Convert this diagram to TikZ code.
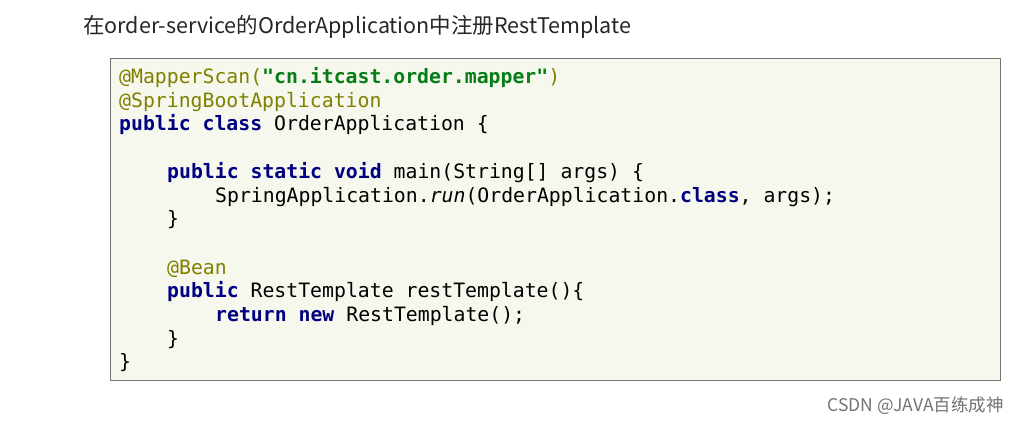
\documentclass[tikz,border=0pt]{standalone}
\usepackage{fontspec}
\setmonofont{DejaVu Sans Mono}
\newfontfamily\cjk{Noto Sans CJK SC}
\definecolor{anno}{HTML}{808000}
\definecolor{kw}{HTML}{000080}
\definecolor{str}{HTML}{067D17}
\definecolor{boxbg}{HTML}{F6F8EE}
\newcommand{\kwd}[1]{\textcolor{kw}{\bfseries #1}}
\begin{document}
\begin{tikzpicture}[x=1pt,y=-1pt,
  code/.style={anchor=base west,inner sep=0pt,font=\ttfamily\fontsize{19.8}{20}\selectfont}]
\useasboundingbox (0,0) rectangle (1019,423);
\fill[white] (0,0) rectangle (1019,423);
\node[anchor=base west,inner sep=0pt,font=\cjk\fontsize{21.5}{24}\selectfont,text=black!85] (title) at (83,33) {在order-service的OrderApplication中注册RestTemplate};
\node[draw=black!55,fill=boxbg,line width=0.8pt,minimum width=890pt,minimum height=322pt,anchor=north west,inner sep=0pt] (box) at (110,58) {};
\node[code] (l1) at (119,83) {\textcolor{anno}{@MapperScan(}\textcolor{str}{\bfseries"cn.itcast.order.mapper"}\textcolor{anno}{)}};
\node[code] (l2) at (119,107) {\textcolor{anno}{@SpringBootApplication}};
\node[code] (l3) at (119,130) {\kwd{public class} OrderApplication \{};
\node[code] (l4) at (167,178) {\kwd{public static void} main(String[] args) \{};
\node[code] (l5) at (215,202) {SpringApplication.\textit{run}(OrderApplication.\kwd{class}, args);};
\node[code] (l6) at (167,225) {\}};
\node[code] (l7) at (167,274) {\textcolor{anno}{@Bean}};
\node[code] (l8) at (167,297) {\kwd{public} RestTemplate restTemplate()\{};
\node[code] (l9) at (215,321) {\kwd{return new} RestTemplate();};
\node[code] (l10) at (167,345) {\}};
\node[code] (l11) at (119,368) {\}};
\node[anchor=base east,inner sep=0pt,font=\cjk\fontsize{17.5}{19}\selectfont,text=black!55] (wm) at (1004,411) {CSDN @JAVA百练成神};
\end{tikzpicture}
\end{document}
